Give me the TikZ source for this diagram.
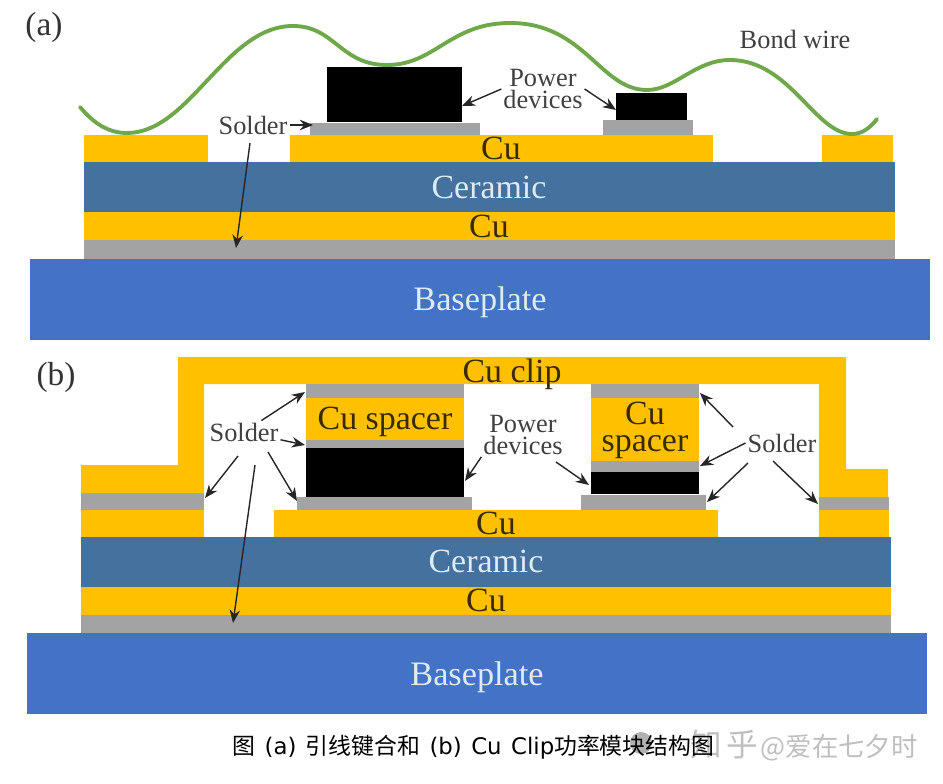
\documentclass[tikz,border=0pt]{standalone}
\usepackage{fontspec}
\setmainfont{Liberation Serif}
\newfontfamily\cjk{Noto Sans CJK SC}
\newfontfamily\latinfont[WordSpace=1.3]{DejaVu Sans}
\usetikzlibrary{arrows.meta}
\definecolor{cucolor}{HTML}{FFC000}
\definecolor{ceramcolor}{HTML}{44719D}
\definecolor{basecolor}{HTML}{4472C4}
\definecolor{soldercolor}{HTML}{A3A3A3}
\definecolor{wirecolor}{HTML}{6FA84A}
\definecolor{lightlabel}{HTML}{DCEBF5}
\definecolor{cutext}{HTML}{3A2A00}
\tikzset{
	lab/.style={inner sep=1pt,text=black!75,align=center,font=\fontsize{15}{12.5}\selectfont},
	culab/.style={inner sep=1pt,text=cutext,align=center,font=\fontsize{19.3}{15.3}\selectfont},
	ceramlab/.style={inner sep=1pt,text=lightlabel,font=\fontsize{19.3}{20}\selectfont},
	baselab/.style={inner sep=1pt,text=lightlabel,font=\fontsize{19.5}{20}\selectfont},
	panel/.style={inner sep=1pt,text=black!80,font=\fontsize{19}{20}\selectfont},
	arrow/.style={->,>={Stealth[length=7.5pt,width=6pt]},line width=0.8pt,black!85}
}
\begin{document}
\begin{tikzpicture}[x=0.02cm,y=-0.02cm]
	\useasboundingbox (0,0) rectangle (943,784);
	\fill[basecolor] (30,259) rectangle (930,340);
	\fill[soldercolor] (84,240) rectangle (895,259);
	\fill[cucolor] (84,212) rectangle (895,240);
	\fill[ceramcolor] (84,162) rectangle (895,212);
	\fill[cucolor] (84,135) rectangle (208,162);
	\fill[cucolor] (290,135) rectangle (713,162);
	\fill[cucolor] (822,135) rectangle (893,162);
	\fill[soldercolor] (310,123) rectangle (480,135);
	\fill[soldercolor] (603,120) rectangle (693,135);
	\fill[black] (327,67) rectangle (462,122);
	\fill[black] (616,93) rectangle (687,120);
	\draw[wirecolor,line width=2.2pt,line cap=round] (80,107)
		.. controls (95,125) and (110,133) .. (127,133)
		.. controls (190,133) and (225,26) .. (293,26)
		.. controls (335,26) and (340,65) .. (387,65)
		.. controls (435,65) and (450,23) .. (510,23)
		.. controls (585,23) and (600,90) .. (647,90)
		.. controls (675,90) and (695,60) .. (730,60)
		.. controls (790,60) and (815,134) .. (852,134)
		.. controls (862,134) and (870,128) .. (877,119);
	\fill[basecolor] (27,633) rectangle (927,714);
	\fill[soldercolor] (81,615) rectangle (891,633);
	\fill[cucolor] (81,587) rectangle (891,615);
	\fill[ceramcolor] (81,537) rectangle (891,587);
	\fill[cucolor] (81,510) rectangle (204,537);
	\fill[cucolor] (274,510) rectangle (718,537);
	\fill[cucolor] (819,510) rectangle (889,537);
	\fill[soldercolor] (81,492) rectangle (204,510);
	\fill[soldercolor] (819,497) rectangle (889,510);
	\fill[cucolor] (81,465) -- (178,465) -- (178,357) -- (846,357) -- (846,469) -- (888,469)
		-- (888,497) -- (819,497) -- (819,384) -- (204,384) -- (204,493) -- (81,493) -- cycle;
	\fill[soldercolor] (306,384) rectangle (464,398);
	\fill[cucolor] (306,398) rectangle (464,440);
	\fill[soldercolor] (306,440) rectangle (464,448);
	\fill[black] (306,448) rectangle (464,497);
	\fill[soldercolor] (297,497) rectangle (472,510);
	\fill[soldercolor] (591,384) rectangle (699,398);
	\fill[cucolor] (591,398) rectangle (699,461);
	\fill[soldercolor] (591,461) rectangle (699,472);
	\fill[black] (591,472) rectangle (699,494);
	\fill[soldercolor] (581,495) rectangle (706,510);

	\node[panel] (panelA) at (44,27) {(a)};
	\node[lab] (wireA) at (795,39) {Bond wire};
	\node[lab] (powerA) at (543,89) {Power\\devices};
	\node[lab] (solderA) at (253,125) {Solder};
	\node[culab] (cuTopA) at (501,148) {Cu};
	\node[ceramlab] (ceramA) at (489,187) {Ceramic};
	\node[culab] (cuA) at (489,226) {Cu};
	\node[baselab] (baseA) at (480,302) {Baseplate};

	\node[panel] (panelB) at (56,377) {(b)};
	\node[culab] (clipB) at (512,374) {Cu clip};
	\node[culab] (spacerB) at (385,422) {Cu spacer};
	\node[culab] (spacerC) at (645,430) {Cu\\spacer};
	\node[lab] (solderB) at (244,432) {Solder};
	\node[lab] (solderC) at (782,443) {Solder};
	\node[lab] (powerB) at (523,435) {Power\\devices};
	\node[culab] (cuTopB) at (496,523) {Cu};
	\node[ceramlab] (ceramB) at (486,561) {Ceramic};
	\node[culab] (cuB) at (486,600) {Cu};
	\node[baselab] (baseB) at (477,677) {Baseplate};

	\coordinate (tipA1) at (313,125);
	\coordinate (tipA2) at (236,248);
	\coordinate (tipA3) at (462,106);
	\coordinate (tipA4) at (616,110);
	\coordinate (tailA2) at (250,143);
	\coordinate (tipB1) at (305,392);
	\coordinate (tipB2) at (305,445);
	\coordinate (tipB3) at (205,498);
	\coordinate (tipB4) at (297,501);
	\coordinate (tipB5) at (233,623);
	\coordinate (tailB3) at (238,456);
	\coordinate (tailB4) at (268,452);
	\coordinate (tailB5) at (255,465);
	\coordinate (tipB6) at (465,481);
	\coordinate (tipB7) at (589,485);
	\coordinate (tailB7) at (556,462);
	\coordinate (tipC1) at (700,393);
	\coordinate (tipC2) at (700,466);
	\coordinate (tipC3) at (707,502);
	\coordinate (tipC4) at (818,504);
	\coordinate (tailC1) at (733,427);
	\coordinate (tailC3) at (748,463);
	\coordinate (tailC4) at (773,461);
	\path
	(solderA) edge[arrow] (tipA1)
	(tailA2) edge[arrow] (tipA2)
	(powerA.west) edge[arrow] (tipA3)
	(powerA.east) edge[arrow] (tipA4)
	(solderB) edge[arrow] (tipB1)
	(solderB) edge[arrow] (tipB2)
	(tailB3) edge[arrow] (tipB3)
	(tailB4) edge[arrow] (tipB4)
	(tailB5) edge[arrow] (tipB5)
	(powerB.south west) edge[arrow] (tipB6)
	(tailB7) edge[arrow] (tipB7)
	(tailC1) edge[arrow] (tipC1)
	(solderC.west) edge[arrow] (tipC2)
	(tailC3) edge[arrow] (tipC3)
	(tailC4) edge[arrow] (tipC4)
	;

	\fill[black!30] (641,743) circle (11);
	\node[anchor=east,inner sep=0pt,text=black!25,font=\cjk\fontsize{15}{16}\selectfont] (markB) at (918,745) {{\fontsize{18}{18}\selectfont 知\kern3pt 乎\kern-2pt} @爱在七夕时};
	\node[anchor=west,inner sep=0pt,text=black,font=\cjk\fontsize{13}{14}\selectfont] (titleB) at (232,747) {图{\latinfont\ (a)\ }引线键合和{\latinfont\ (b)\ Cu\ Clip}功率模块结构图};
\end{tikzpicture}
\end{document}
